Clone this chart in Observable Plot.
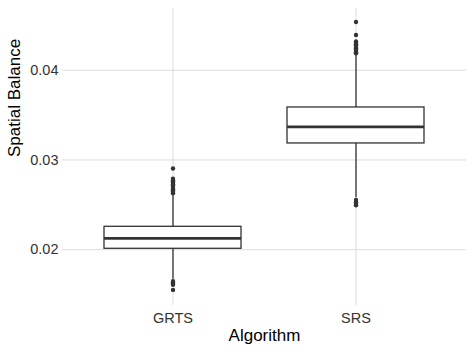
<!DOCTYPE html>
<html>
<head>
<meta charset="utf-8">
<script src="https://cdn.jsdelivr.net/npm/d3@7"></script>
<script src="https://cdn.jsdelivr.net/npm/@observablehq/plot@0.6"></script>
<style>
  body { margin: 0; background: #fff; }
  #chart svg { display: block; }
</style>
</head>
<body>
<div id="chart"></div>
<script>
const categories = ["GRTS", "SRS"];
const q1 = [0.02010, 0.03184];
const medians = [0.02126, 0.03369];
const q3 = [0.02255, 0.03585];
const whiskerLow = [0.01670, 0.02580];
const whiskerHigh = [0.02620, 0.04170];
const outliersGRTS = [0.01552, 0.01608, 0.01620, 0.01635, 0.01650,
  0.02630, 0.02645, 0.02660, 0.02672, 0.02688, 0.02700, 0.02715, 0.02730,
  0.02745, 0.02760, 0.02775, 0.02790, 0.02905];
const outliersSRS = [0.02495, 0.02510, 0.02530, 0.02555,
  0.04189, 0.04200, 0.04215, 0.04230, 0.04245, 0.04260, 0.04275, 0.04290,
  0.04305, 0.04320, 0.04393, 0.04538];
const yTicks = [0.02, 0.03, 0.04];
const yDomain = [0.01378, 0.04688];

const stats = categories.map((c, i) => ({
  cat: c, q1: q1[i], med: medians[i], q3: q3[i], lo: whiskerLow[i], hi: whiskerHigh[i]
}));
const outliers = [
  ...outliersGRTS.map(v => ({cat: "GRTS", v})),
  ...outliersSRS.map(v => ({cat: "SRS", v}))
];

const ink = "#333333";
const chart = Plot.plot({
  width: 474,
  height: 355,
  marginLeft: 62,
  marginRight: 8,
  marginTop: 8,
  marginBottom: 50,
  style: {fontFamily: "'Liberation Sans', Arial, sans-serif", background: "#fff"},
  x: {type: "band", domain: categories, paddingInner: 0.25, paddingOuter: 0.225, axis: null},
  y: {domain: yDomain, axis: null},
  marks: [
    Plot.gridY(yTicks, {stroke: "#dcdcdc", strokeOpacity: 1, strokeWidth: 1}),
    Plot.gridX(categories, {stroke: "#dcdcdc", strokeOpacity: 1, strokeWidth: 1}),
    Plot.axisY(yTicks, {tickSize: 0, tickPadding: 4, tickFormat: d3.format(".2f"),
      fontSize: 14.5, color: "#333", label: null}),
    Plot.axisX(categories, {tickSize: 0, tickPadding: 7, fontSize: 14.5, color: "#333", label: null}),
    Plot.ruleX(stats, {x: "cat", y1: "lo", y2: "hi", stroke: ink, strokeWidth: 1.3}),
    Plot.barY(stats, {x: "cat", y1: "q1", y2: "q3", fill: "#fff", stroke: ink, strokeWidth: 1.3}),
    Plot.tickY(stats, {x: "cat", y: "med", stroke: ink, strokeWidth: 2.6}),
    Plot.dot(outliers, {x: "cat", y: "v", r: 2.2, fill: ink, stroke: "none"}),
    Plot.text(["Algorithm"], {frameAnchor: "bottom", text: d => d, dy: 35,
      fontSize: 17, fill: "#000"}),
    Plot.text(["Spatial Balance"], {frameAnchor: "left", text: d => d, dx: -48,
      rotate: -90, fontSize: 17, fill: "#000"})
  ]
});
document.getElementById("chart").appendChild(chart);
</script>
</body>
</html>
